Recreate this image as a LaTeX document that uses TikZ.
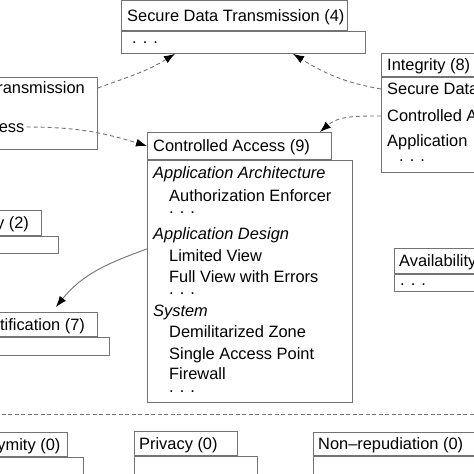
\documentclass[tikz,border=0pt]{standalone}
\usepackage{fontspec}
\setmainfont{Liberation Sans}
\usepackage{tikz}
\usetikzlibrary{arrows.meta,positioning,calc}
\definecolor{linegray}{gray}{0.45}

\begin{document}
\begin{tikzpicture}[
  x=1pt,
  y=-1pt,
  font=\fontsize{16.4}{20}\selectfont
]

  \tikzstyle{boxnode}=[draw=linegray,line width=0.9pt,fill=white,rectangle,anchor=north west,inner sep=0pt]
  \tikzstyle{textnode}=[inner sep=0pt,anchor=west,text height=11.7pt,text depth=0pt]
  \tikzstyle{headnode}=[textnode,font=\fontsize{16.4}{20}\selectfont\itshape]
  \tikzstyle{dotsnode}=[inner sep=0pt,anchor=base west]

  \tikzstyle{pointer}=[draw=linegray,line width=0.9pt,-{Latex[length=11pt,width=8pt,color=black]}]
  \tikzstyle{uses}=[pointer,dash pattern=on 4pt off 3pt]

  \clip (0,0) rectangle (474,474);

  % boxes
  \node[boxnode,minimum width=226pt,minimum height=30pt] (sdt) at (121,0) {};
  \node[boxnode,minimum width=244pt,minimum height=22pt] (sdtc) at (sdt.south west) {};

  \node[boxnode,minimum width=130pt,minimum height=72pt] (confc) at (-33,77) {};

  \node[boxnode,minimum width=110pt,minimum height=23pt] (integ) at (381,53) {};
  \node[boxnode,minimum width=110pt,minimum height=95pt] (integc) at (integ.south west) {};

  \node[boxnode,minimum width=184pt,minimum height=27pt] (ca) at (147,132) {};
  \node[boxnode,minimum width=205pt,minimum height=242pt] (cac) at (ca.south west) {};

  \node[boxnode,minimum width=144pt,minimum height=25pt] (acc) at (-103,210) {};
  \node[boxnode,minimum width=161pt,minimum height=17pt] (accc) at (acc.south west) {};

  \node[boxnode,minimum width=135pt,minimum height=24pt] (idt) at (-38,312) {};
  \node[boxnode,minimum width=147pt,minimum height=18pt] (idtc) at (idt.south west) {};

  \node[boxnode,minimum width=100pt,minimum height=25pt] (avail) at (394,248) {};
  \node[boxnode,minimum width=100pt,minimum height=17pt] (availc) at (avail.south west) {};

  \draw[linegray,line width=0.9pt,dash pattern=on 4pt off 2.5pt] (-5,414) -- (480,414);

  \node[boxnode,minimum width=114pt,minimum height=24pt] (anon) at (-47,432) {};
  \node[boxnode,minimum width=130pt,minimum height=50pt] (anonc) at (anon.south west) {};

  \node[boxnode,minimum width=103pt,minimum height=24pt] (priv) at (134,431) {};
  \node[boxnode,minimum width=123pt,minimum height=50pt] (privc) at (priv.south west) {};

  \node[boxnode,minimum width=170pt,minimum height=23pt] (nonrep) at (313,432) {};
  \node[boxnode,minimum width=170pt,minimum height=50pt] (nonrepc) at (nonrep.south west) {};

  % texts
  \node[textnode] (sdtname) at ([xshift=6pt]sdt.west) {Secure Data Transmission (4)};
  \node[dotsnode] (sdtdots) at (132,43.5) {. . .};

  \node[textnode] (confsdt) at (-108,88) {Secure Data Transmission};
  \node[textnode] (confca) at (-108,127) {Controlled Access};

  \node[textnode] (integname) at ([xshift=6pt]integ.west) {Integrity (8)};
  \node[textnode] (integsdt) at (387,89) {Secure Data Transmission};
  \node[textnode] (integca) at (387,116) {Controlled Access};
  \node[textnode] (integapp) at (387,141) {Application};
  \node[dotsnode] (integdots) at (399,161.5) {. . .};

  \node[textnode] (caname) at ([xshift=6pt]ca.west) {Controlled Access (9)};
  \node[headnode] (archhead) at (153,172.5) {Application Architecture};
  \node[textnode] (authenf) at (169,195.5) {Authorization Enforcer};
  \node[dotsnode] (archdots) at (169,213.5) {. . .};
  \node[headnode] (deshead) at (153,234) {Application Design};
  \node[textnode] (limview) at (169,255.5) {Limited View};
  \node[textnode] (fullview) at (169,276.7) {Full View with Errors};
  \node[dotsnode] (desdots) at (169,294.5) {. . .};
  \node[headnode] (syshead) at (153,311) {System};
  \node[textnode] (dmz) at (169,332) {Demilitarized Zone};
  \node[textnode] (sap) at (169,353.3) {Single Access Point};
  \node[textnode] (firewall) at (169,374) {Firewall};
  \node[dotsnode] (sysdots) at (169,392) {. . .};

  \node[textnode] (accname) at ([xshift=6pt]acc.west) {Accountability (2)};
  \node[textnode] (idtname) at ([xshift=6pt]idt.west) {Identification (7)};

  \node[textnode] (availname) at ([xshift=5pt]avail.west) {Availability};
  \node[dotsnode] (availdots) at (400,285.5) {. . .};

  \node[textnode] (anonname) at ([xshift=6pt]anon.west) {Anonymity (0)};
  \node[textnode] (privname) at ([xshift=5pt]priv.west) {Privacy (0)};
  \node[textnode] (nonrepname) at ([xshift=5pt]nonrep.west) {Non--repudiation (0)};

  % pointers
  \draw[uses] (confc.east |- confsdt.west) to[out=20,in=212] ([xshift=54pt]sdtc.south west);
  \draw[uses] ([xshift=2pt]confca.east)    to[out=0,in=163]  (ca.west);
  \draw[uses] (integc.west |- integsdt.west) to[out=170,in=-32] ([xshift=172pt]sdtc.south west);
  \draw[uses] (integc.west |- integca.west)  to[out=180,in=41]  ([xshift=-12pt]ca.north east);
  \draw[pointer] ([yshift=-89pt]cac.north west) to[out=200,in=51] ([xshift=-42pt,yshift=5pt]idt.north east);

\end{tikzpicture}
\end{document}
